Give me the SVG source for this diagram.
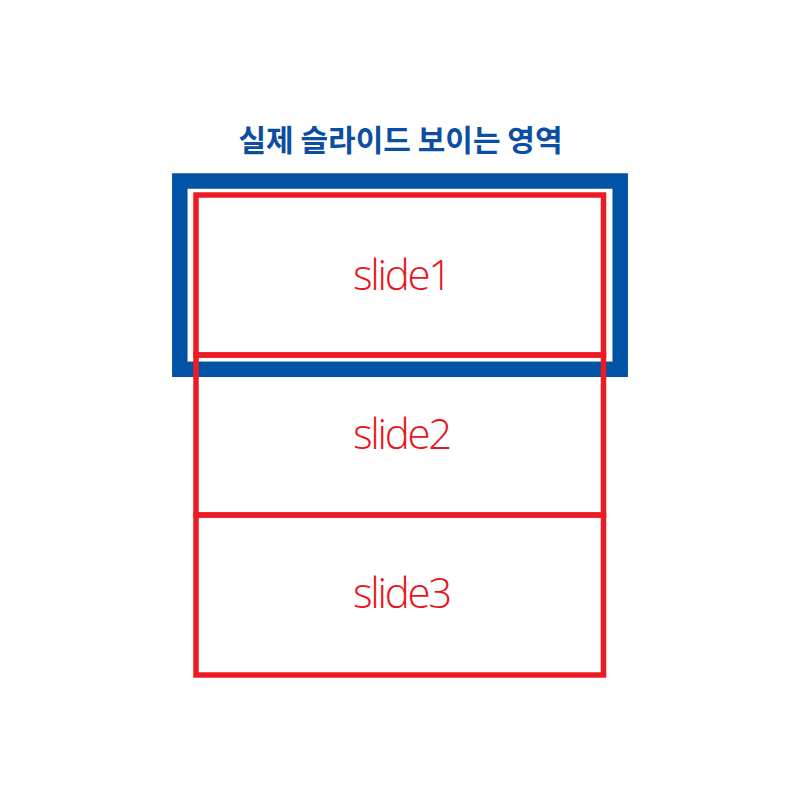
<svg xmlns="http://www.w3.org/2000/svg" width="800" height="809" viewBox="0 0 800 809">
<style>
.slide{fill:none;stroke:#ED1C24;stroke-width:5.5}
.lbl{font-family:"Open Sans","Noto Sans",sans-serif;font-weight:300;font-size:42px;letter-spacing:-2.3px;fill:#E8141C;text-anchor:middle}
.title{font-family:"Noto Sans CJK KR",sans-serif;font-weight:700;font-size:30px;fill:#0B4EA2;text-anchor:middle}
</style>
<rect width="800" height="809" fill="#ffffff"/>
<g id="title"><text class="title" x="400.5" y="151">실제 슬라이드 보이는 영역</text></g>
<g id="viewport"><rect x="179.8" y="181" width="440.4" height="188.3" fill="none" stroke="#0053A5" stroke-width="15.5"/></g>
<g id="slide1"><rect class="slide" x="196" y="195" width="407.5" height="160"/><text class="lbl" x="401.5" y="290">slide1</text></g>
<g id="slide2"><rect class="slide" x="196" y="355" width="407.5" height="160"/><text class="lbl" x="401.5" y="449">slide2</text></g>
<g id="slide3"><rect class="slide" x="196" y="515" width="407.5" height="160"/><text class="lbl" x="401.5" y="608">slide3</text></g>
</svg>
